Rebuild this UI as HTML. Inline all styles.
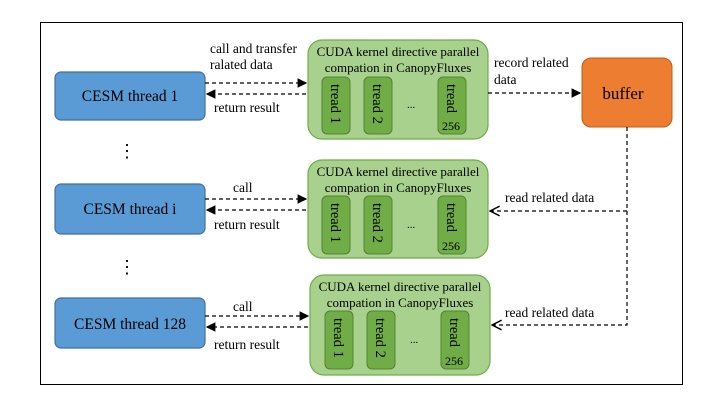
<!DOCTYPE html>
<html><head><style>body{margin:0;background:#fff}svg{display:block;font-family:"Liberation Serif",serif}</style></head><body>
<svg width="723" height="414" viewBox="0 0 723 414" xmlns="http://www.w3.org/2000/svg">
<defs>
<marker id="a" markerWidth="8" markerHeight="8" refX="7" refY="4" orient="auto"><path d="M0,0 L8,4 L0,8 z" fill="#000"/></marker>
<marker id="o" markerWidth="10" markerHeight="10" refX="9" refY="5" orient="auto"><path d="M1,1 L9,5 L1,9" fill="none" stroke="#000" stroke-width="1.2"/></marker>
</defs>
<rect x="40.5" y="22.5" width="642" height="362" fill="#fff" stroke="#000"/>
<g fill="#5b9bd5" stroke="#41719c" stroke-width="1.2">
<rect x="55" y="72" width="150" height="48" rx="6"/>
<rect x="55" y="184" width="150" height="50" rx="6"/>
<rect x="55" y="298" width="150" height="50" rx="6"/>
</g>
<g font-size="15.5" fill="#000" text-anchor="middle">
<text x="130" y="101">CESM thread 1</text>
<text x="130" y="214">CESM thread i</text>
<text x="130" y="329">CESM thread 128</text>
</g>
<g font-size="18" text-anchor="middle"><text x="127" y="157">⋮</text><text x="127" y="273">⋮</text></g>
<rect x="582" y="58" width="90" height="69" rx="9" fill="#ed7d31" stroke="#c55a11"/>
<text x="623" y="99" font-size="17" text-anchor="middle">buffer</text>
<g fill="#a9d18e" stroke="#70ad47" stroke-width="1.2">
<rect x="308" y="40" width="180" height="99" rx="14"/>
<rect x="308" y="160" width="180" height="98" rx="14"/>
<rect x="310" y="275" width="180" height="100" rx="14"/>
</g>
<g font-size="13" text-anchor="middle">
<text x="398" y="56">CUDA kernel directive parallel</text><text x="398" y="72">compation in CanopyFluxes</text>
<text x="398" y="176">CUDA kernel directive parallel</text><text x="398" y="192">compation in CanopyFluxes</text>
<text x="400" y="291">CUDA kernel directive parallel</text><text x="400" y="307">compation in CanopyFluxes</text>
</g>
<g fill="#70ad47" stroke="#548235">
<rect x="322" y="77" width="28" height="57" rx="5"/><rect x="364" y="77" width="28" height="57" rx="5"/><rect x="438" y="77" width="28" height="57" rx="5"/>
<rect x="322" y="196" width="28" height="58" rx="5"/><rect x="364" y="196" width="28" height="58" rx="5"/><rect x="438" y="196" width="28" height="58" rx="5"/>
<rect x="325" y="311" width="28" height="58" rx="5"/><rect x="367" y="311" width="28" height="58" rx="5"/><rect x="441" y="311" width="28" height="58" rx="5"/>
</g>
<g font-size="14.5">
<text transform="translate(331,84) rotate(90)">tread 1</text><text transform="translate(373,84) rotate(90)">tread 2</text><text transform="translate(447,84) rotate(90)">tread</text><text x="442" y="130" font-size="12">256</text><text x="407" y="108" font-size="11">...</text>
<text transform="translate(331,203) rotate(90)">tread 1</text><text transform="translate(373,203) rotate(90)">tread 2</text><text transform="translate(447,203) rotate(90)">tread</text><text x="442" y="250" font-size="12">256</text><text x="407" y="228" font-size="11">...</text>
<text transform="translate(334,318) rotate(90)">tread 1</text><text transform="translate(376,318) rotate(90)">tread 2</text><text transform="translate(450,318) rotate(90)">tread</text><text x="445" y="365" font-size="12">256</text><text x="410" y="343" font-size="11">...</text>
</g>
<g stroke="#000" stroke-width="1.2" stroke-dasharray="4,3" fill="none">
<line x1="205" y1="83" x2="306" y2="83" marker-end="url(#a)"/>
<line x1="306" y1="94" x2="207" y2="94" marker-end="url(#a)"/>
<line x1="205" y1="199" x2="306" y2="199" marker-end="url(#a)"/>
<line x1="306" y1="210" x2="207" y2="210" marker-end="url(#a)"/>
<line x1="205" y1="316" x2="308" y2="316" marker-end="url(#a)"/>
<line x1="308" y1="327" x2="207" y2="327" marker-end="url(#a)"/>
<line x1="488" y1="93" x2="580" y2="93" marker-end="url(#a)"/>
<polyline points="627,127 627,325 492,325" marker-end="url(#o)"/>
<line x1="627" y1="211" x2="490" y2="211" marker-end="url(#o)"/>
</g>
<g font-size="13.5">
<text x="210" y="53">call and transfer</text><text x="210" y="69">ralated data</text>
<text x="214" y="112">return result</text>
<text x="494" y="67">record related</text><text x="494" y="84">data</text>
<text x="233" y="192">call</text><text x="214" y="229">return result</text>
<text x="505" y="202">read related data</text>
<text x="233" y="311">call</text><text x="214" y="349">return result</text>
<text x="505" y="317">read related data</text>
</g>
</svg>
</body></html>
